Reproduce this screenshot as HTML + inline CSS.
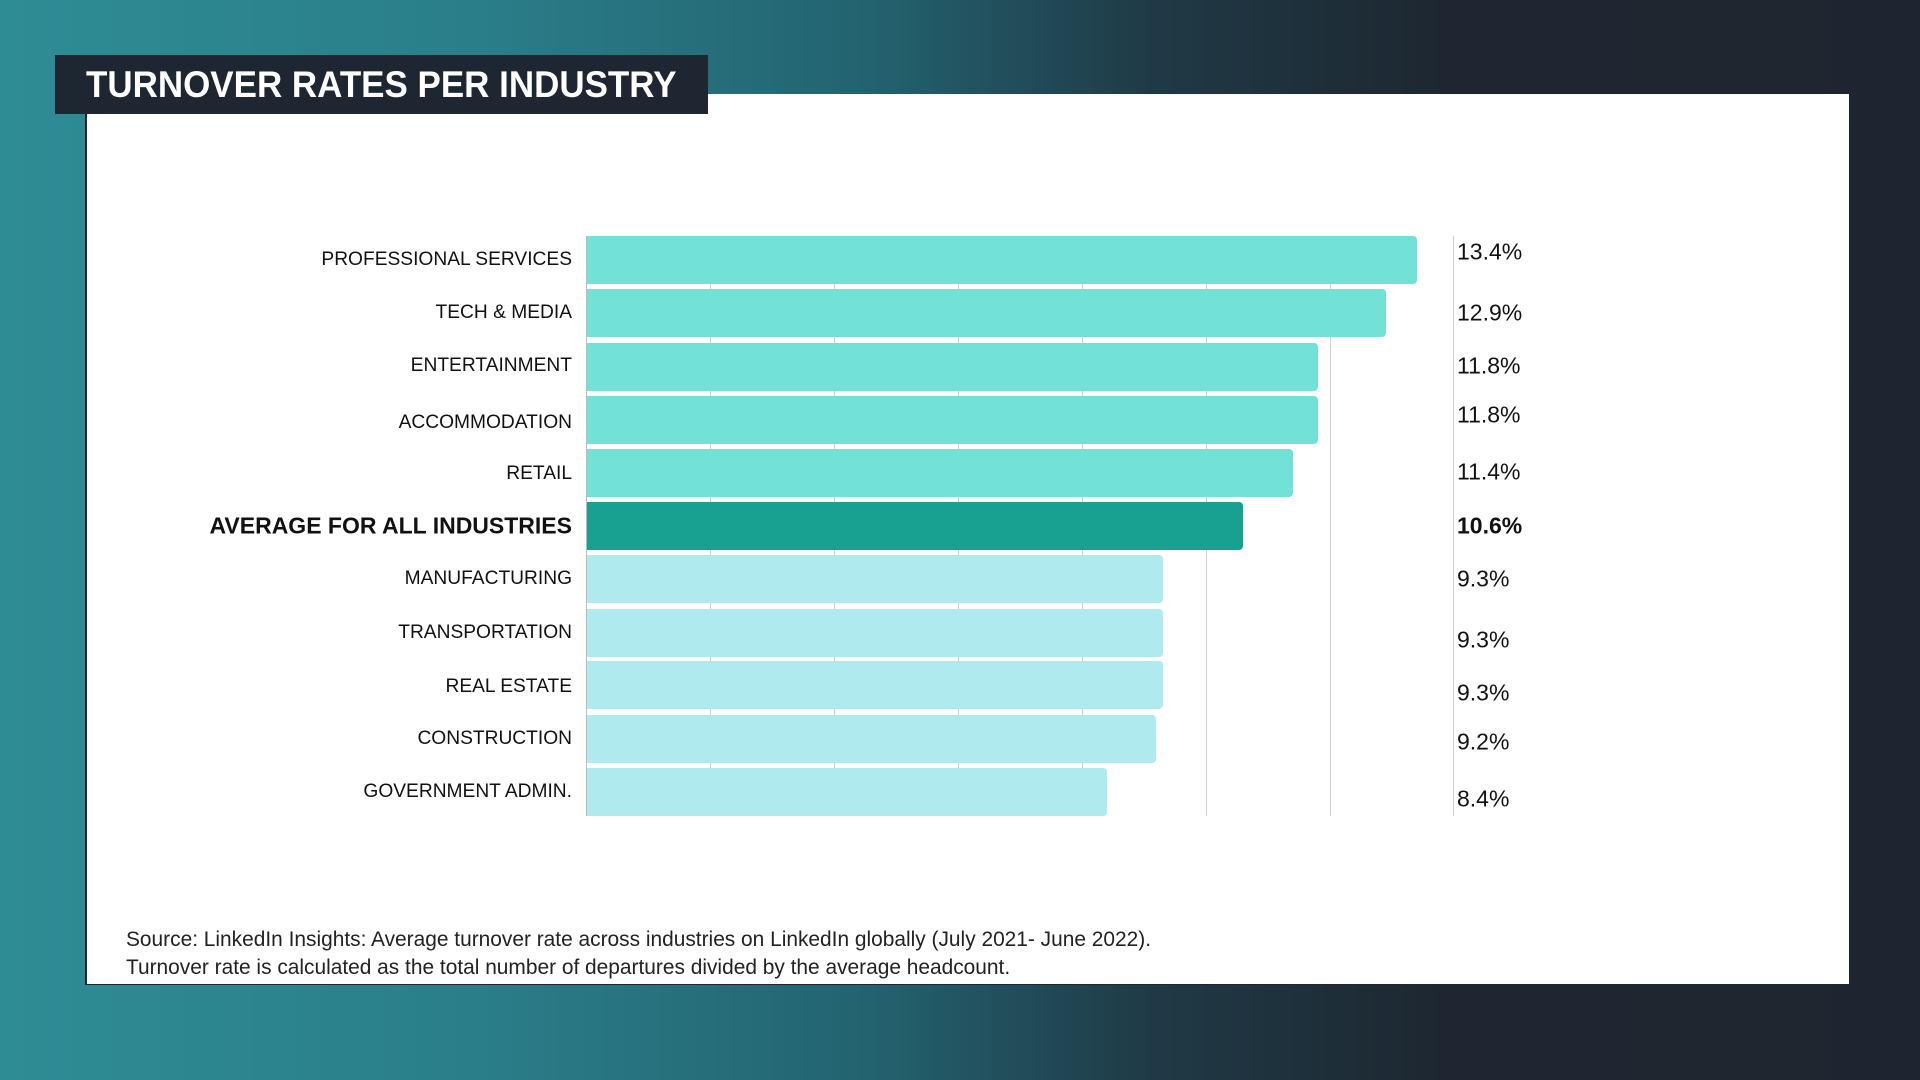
<!DOCTYPE html>
<html><head><meta charset="utf-8"><style>
*{margin:0;padding:0;box-sizing:border-box}
body{width:1920px;height:1080px;overflow:hidden;position:relative;font-family:"Liberation Sans",sans-serif;
background:linear-gradient(90deg,#2e8c95 0%,#2a7e89 25%,#236370 45%,#1f3a46 60%,#1e2731 75%,#1e2530 100%);}
.panel{position:absolute;left:85px;top:94px;width:1764px;height:891px;background:#fff;border-left:2px solid #1e2731;border-bottom:1px solid #1e2731}
.title{position:absolute;left:55px;top:55px;width:653px;height:59px;background:#1e2731}
.title span{position:absolute;left:31px;top:0;color:#fff;font-weight:bold;font-size:37px;line-height:59px;white-space:nowrap;transform:scaleX(0.945);transform-origin:0 50%}
.grid{position:absolute;top:236px;height:580px;width:1px;background:#d0d0d0}
.bar{position:absolute;left:587px;height:48px;border-radius:0 4px 4px 0}
.lab{position:absolute;right:1348px;font-size:19.2px;color:#111;transform:translateY(-50%);white-space:nowrap}
.val{position:absolute;left:1457px;font-size:23px;color:#111;transform:translateY(-50%);white-space:nowrap}
.src{position:absolute;left:126px;font-size:20.9px;color:#222;white-space:nowrap}
</style></head><body>
<div class="panel"></div>
<div class="title"><span>TURNOVER RATES PER INDUSTRY</span></div>
<div class="grid" style="left:586px;background:#bbb"></div>
<div class="grid" style="left:710px"></div>
<div class="grid" style="left:834px"></div>
<div class="grid" style="left:958px"></div>
<div class="grid" style="left:1082px"></div>
<div class="grid" style="left:1206px"></div>
<div class="grid" style="left:1330px"></div>
<div class="grid" style="left:1453px"></div>

<div class="bar" style="top:236px;width:830px;background:#72e1d6"></div>
<div class="bar" style="top:289px;width:799px;background:#72e1d6"></div>
<div class="bar" style="top:343px;width:731px;background:#72e1d6"></div>
<div class="bar" style="top:396px;width:731px;background:#72e1d6"></div>
<div class="bar" style="top:449px;width:706px;background:#72e1d6"></div>
<div class="bar" style="top:502px;width:656px;background:#17a190"></div>
<div class="bar" style="top:555px;width:576px;background:#aeeaee"></div>
<div class="bar" style="top:609px;width:576px;background:#aeeaee"></div>
<div class="bar" style="top:661px;width:576px;background:#aeeaee"></div>
<div class="bar" style="top:715px;width:569px;background:#aeeaee"></div>
<div class="bar" style="top:768px;width:520px;background:#aeeaee"></div>

<div class="lab" style="top:260px">PROFESSIONAL SERVICES</div>
<div class="lab" style="top:313px">TECH &amp; MEDIA</div>
<div class="lab" style="top:366px">ENTERTAINMENT</div>
<div class="lab" style="top:423px">ACCOMMODATION</div>
<div class="lab" style="top:474px">RETAIL</div>
<div class="lab" style="top:526px;font-weight:bold;font-size:23px">AVERAGE FOR ALL INDUSTRIES</div>
<div class="lab" style="top:579px">MANUFACTURING</div>
<div class="lab" style="top:633px">TRANSPORTATION</div>
<div class="lab" style="top:687px">REAL ESTATE</div>
<div class="lab" style="top:739px">CONSTRUCTION</div>
<div class="lab" style="top:792px">GOVERNMENT ADMIN.</div>

<div class="val" style="top:252px">13.4%</div>
<div class="val" style="top:313px">12.9%</div>
<div class="val" style="top:366px">11.8%</div>
<div class="val" style="top:415px">11.8%</div>
<div class="val" style="top:472px">11.4%</div>
<div class="val" style="top:526px;font-weight:bold">10.6%</div>
<div class="val" style="top:579px">9.3%</div>
<div class="val" style="top:640px">9.3%</div>
<div class="val" style="top:693px">9.3%</div>
<div class="val" style="top:742px">9.2%</div>
<div class="val" style="top:799px">8.4%</div>

<div class="src" style="top:928px">Source: LinkedIn Insights: Average turnover rate across industries on LinkedIn globally (July 2021- June 2022).</div>
<div class="src" style="top:956px">Turnover rate is calculated as the total number of departures divided by the average headcount.</div>
</body></html>
